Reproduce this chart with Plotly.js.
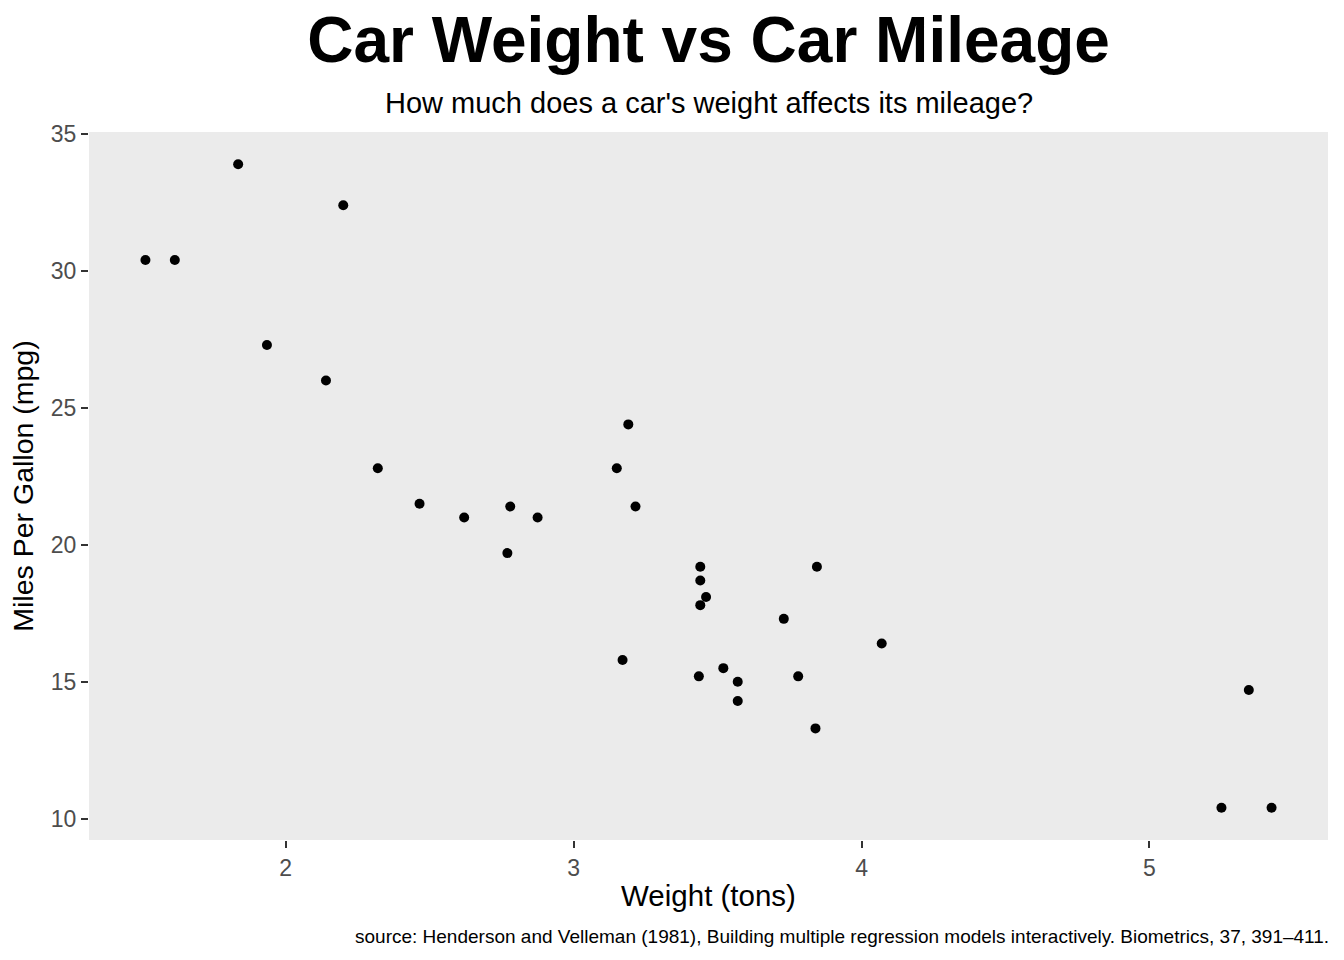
<!DOCTYPE html>
<html>
<head>
<meta charset="utf-8">
<script src="https://cdn.plot.ly/plotly-3.0.1.min.js"></script>
<style>
  body { margin: 0; background: #fff; }
  #chart { width: 1344px; height: 960px; }
</style>
</head>
<body>
<div id="chart"></div>
<script>
// mtcars: weight (1000 lbs) and miles per gallon
var weight = [2.620, 2.875, 2.320, 3.215, 3.440, 3.460, 3.570, 3.190, 3.150, 3.440, 3.440,
              4.070, 3.730, 3.780, 5.250, 5.424, 5.345, 2.200, 1.615, 1.835, 2.465, 3.520,
              3.435, 3.840, 3.845, 1.935, 2.140, 1.513, 3.170, 2.770, 3.570, 2.780];
var mpg = [21.0, 21.0, 22.8, 21.4, 18.7, 18.1, 14.3, 24.4, 22.8, 19.2, 17.8,
           16.4, 17.3, 15.2, 10.4, 10.4, 14.7, 32.4, 30.4, 33.9, 21.5, 15.5,
           15.2, 13.3, 19.2, 27.3, 26.0, 30.4, 15.8, 19.7, 15.0, 21.4];
var xTicks = [2, 3, 4, 5];
var yTicks = [10, 15, 20, 25, 30, 35];

var font = "Liberation Sans, Arial, sans-serif";

var trace = {
    type: "scatter",
    mode: "markers",
    x: weight,
    y: mpg,
    marker: { size: 10, color: "#000000" },
    hoverinfo: "x+y"
};

var layout = {
    width: 1344,
    height: 960,
    margin: { l: 89, r: 16, t: 132, b: 120 },
    paper_bgcolor: "#ffffff",
    plot_bgcolor: "#EBEBEB",
    font: { family: font, color: "#000000" },
    showlegend: false,
    title: {
        text: "<b>Car Weight vs Car Mileage</b>",
        font: { family: font, size: 64, color: "#000000" },
        x: 0.5, xref: "paper", xanchor: "center",
        y: 1 - 40 / 960, yref: "container", yanchor: "middle"
    },
    xaxis: {
        range: [1.317, 5.620],
        tickvals: xTicks,
        ticktext: xTicks.map(String),
        showgrid: false, zeroline: false, showline: false,
        ticks: "outside", ticklen: 7, tickwidth: 2, tickcolor: "#333333",
        tickfont: { family: font, size: 23, color: "#4D4D4D" },
        title: { text: "Weight (tons)", standoff: 5, font: { family: font, size: 29.5, color: "#000000" } }
    },
    yaxis: {
        range: [9.225, 35.075],
        tickvals: yTicks,
        ticktext: yTicks.map(String),
        showgrid: false, zeroline: false, showline: false,
        ticks: "outside", ticklen: 7, tickwidth: 2, tickcolor: "#333333",
        tickfont: { family: font, size: 23, color: "#4D4D4D" },
        title: { text: "Miles Per Gallon (mpg)", standoff: 8, font: { family: font, size: 28.5, color: "#000000" } }
    },
    annotations: [
        {
            text: "How much does a car's weight affects its mileage?",
            xref: "paper", yref: "paper", x: 0.5, y: 1, yshift: 29,
            xanchor: "center", yanchor: "middle", showarrow: false,
            font: { family: font, size: 29, color: "#000000" }
        },
        {
            text: "source: Henderson and Velleman (1981), Building multiple regression models interactively. Biometrics, 37, 391\u2013411.",
            xref: "paper", yref: "paper", x: 1, y: 0, yshift: -96, xshift: 3,
            xanchor: "right", yanchor: "middle", showarrow: false,
            font: { family: font, size: 19, color: "#000000" }
        }
    ]
};

Plotly.newPlot("chart", [trace], layout, { displayModeBar: false });
</script>
</body>
</html>
